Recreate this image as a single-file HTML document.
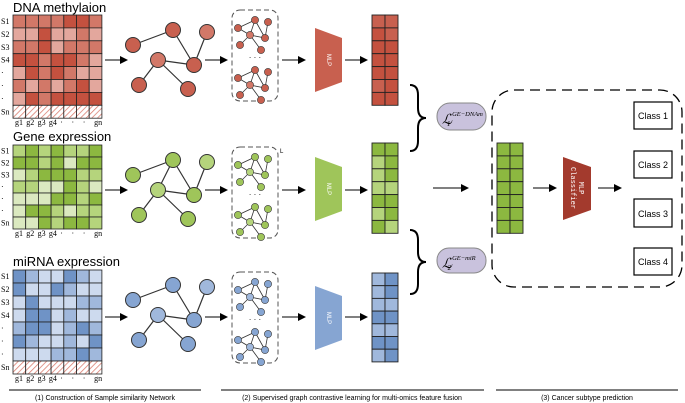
<!DOCTYPE html>
<html><head><meta charset="utf-8"><style>
html,body{margin:0;padding:0;background:#fff;}
svg{display:block;font-family:"Liberation Sans",sans-serif;}
</style></head><body>
<svg id="s" width="685" height="403" viewBox="0 0 685 403" xmlns="http://www.w3.org/2000/svg">
<defs>
<pattern id="h" width="4" height="4" patternUnits="userSpaceOnUse" patternTransform="rotate(45)">
<rect width="4" height="4" fill="#fff"/><line x1="0" y1="0" x2="0" y2="4" stroke="#d9786a" stroke-width="1.5"/></pattern>
<marker id="a" markerWidth="8" markerHeight="8" refX="7" refY="4" orient="auto" markerUnits="userSpaceOnUse"><path d="M0,0 L8,4 L0,8 z" fill="#000"/></marker>
</defs>
<g id="g"></g>
<text x="13" y="12" font-size="13">DNA methylaion</text>
<text x="13" y="141" font-size="13">Gene expression</text>
<text x="13" y="266" font-size="13">miRNA expression</text>
<!-- losses -->
<rect x="437" y="103" width="49" height="27" rx="13" fill="#c9c2dd" stroke="#888"/>
<text x="442" y="124" font-size="14" font-family="Liberation Serif,serif" font-style="italic">ℒ<tspan font-size="6.5" dy="-8">GE−DNAm</tspan><tspan font-size="7" dx="-36" dy="10">1</tspan></text>
<rect x="437" y="248" width="49" height="25" rx="12" fill="#c9c2dd" stroke="#888"/>
<text x="442" y="268" font-size="14" font-family="Liberation Serif,serif" font-style="italic">ℒ<tspan font-size="6.5" dy="-8">GE−miR</tspan><tspan font-size="7" dx="-28" dy="10">2</tspan></text>
<!-- braces -->
<path d="M410,85 q8,0 8,10 v13 q0,10 8,10 q-8,0 -8,10 v13 q0,10 -8,10" fill="none" stroke="#000" stroke-width="2"/>
<path d="M410,230 q8,0 8,10 v12 q0,10 8,10 q-8,0 -8,10 v12 q0,10 -8,10" fill="none" stroke="#000" stroke-width="2"/>
<rect x="492" y="90" width="190" height="197" rx="22" fill="none" stroke="#000" stroke-width="1.3" stroke-dasharray="10,6"/>
<line x1="433" y1="188" x2="468" y2="188" stroke="#000" marker-end="url(#a)"/>
<line x1="533" y1="188" x2="556" y2="188" stroke="#000" marker-end="url(#a)"/>
<line x1="598" y1="188" x2="621" y2="188" stroke="#000" marker-end="url(#a)"/>
<polygon points="563,157 591,167 591,210 563,220" fill="#a33a2d"/>
<text transform="translate(577,188) rotate(90)" font-size="7" fill="#fff" text-anchor="middle" font-family="Liberation Mono,monospace"><tspan x="0" dy="-2">MLP</tspan><tspan x="0" dy="8">Classifier</tspan></text>
<g fill="#fff" stroke="#000" stroke-width="1.2">
<rect x="634" y="102" width="38" height="27"/><rect x="634" y="151" width="38" height="27"/>
<rect x="634" y="199" width="38" height="28"/><rect x="634" y="248" width="38" height="27"/></g>
<g font-size="9" text-anchor="middle"><text x="653" y="119">Class 1</text><text x="653" y="168">Class 2</text><text x="653" y="217">Class 3</text><text x="653" y="265">Class 4</text></g>
<g stroke="#000" stroke-width="1"><line x1="9" y1="390" x2="201" y2="390"/><line x1="221" y1="390" x2="484" y2="390"/><line x1="496" y1="390" x2="678" y2="390"/></g>
<g font-size="7" text-anchor="middle"><text x="105" y="400">(1) Construction of Sample similarity Network</text><text x="352" y="400">(2) Supervised graph contrastive learning for multi-omics feature fusion</text><text x="587" y="400">(3)  Cancer subtype prediction</text></g>
<text x="280" y="153" font-size="6">L</text>
</svg>
<script>
var G=document.getElementById('g'),h='';
function R(){var x=Math.sin(R.s++*12.9898)*43758.5453;return x-Math.floor(x);}R.s=3;
var P=[["#c4513f","#d27868","#e3a79d","#c8604f","#a33a2d"],["#8cb840","#b5d47c","#dbe9c0","#9fc55a","#a8cc4a"],["#6f93c6","#a0b8dc","#cddaee","#86a5d2","#a8bfe2"]];
var tops=[15,145,270],hat=[1,0,1],rh=[12.9,12,13],nr=[8,7,8];
for(var k=0;k<3;k++){var c=P[k],y0=tops[k],r=rh[k],n=nr[k];
 for(var i=0;i<n;i++)for(var j=0;j<7;j++){var x=13+j*12.7,y=y0+i*r;
  var f=(i==7&&hat[k])?'url(#h)':c[Math.floor(R()*3)];
  h+='<rect x="'+x+'" y="'+y+'" width="12.7" height="'+r+'" fill="'+f+'" stroke="#222" stroke-width="0.8"/>';}
 var lab=n==8?['S1','S2','S3','S4','·','·','·','Sn']:['S1','S2','S3','·','·','·','Sn'];
 for(i=0;i<n;i++)h+='<text x="1" y="'+(y0+i*r+r*0.7)+'" font-size="8" font-family="Liberation Serif,serif">'+lab[i]+'</text>';
 var gy=y0+n*r+7,gl=['g1','g2','g3','g4','·','·','·','gn'];
 for(j=0;j<8;j++)h+='<text x="'+(15+j*11.3)+'" y="'+gy+'" font-size="8" font-family="Liberation Serif,serif">'+gl[j]+'</text>';
 var dy=[0,130,255][k],N=[[133,45],[173,30],[207,32],[158,60],[194,65],[139,85],[188,89]];
 var E=[[0,1],[1,4],[2,4],[3,4],[3,5],[3,6]];if(k==1)E.push([1,3]);
 E.forEach(function(e){h+='<line x1="'+N[e[0]][0]+'" y1="'+(N[e[0]][1]+dy)+'" x2="'+N[e[1]][0]+'" y2="'+(N[e[1]][1]+dy)+'" stroke="#333" stroke-width="1.2"/>';});
 N.forEach(function(nn,q){h+='<circle cx="'+nn[0]+'" cy="'+(nn[1]+dy)+'" r="7.5" fill="'+(q==3||q==2?c[1]:c[3])+'" stroke="#333" stroke-width="1"/>';});
 var ay=[60,190,317][k];
 h+='<line x1="105" y1="'+ay+'" x2="127" y2="'+ay+'" stroke="#000" marker-end="url(#a)"/>';
 h+='<line x1="205" y1="'+ay+'" x2="227" y2="'+ay+'" stroke="#000" marker-end="url(#a)"/>';
 h+='<line x1="282" y1="'+ay+'" x2="305" y2="'+ay+'" stroke="#000" marker-end="url(#a)"/>';
 h+='<line x1="345" y1="'+ay+'" x2="367" y2="'+ay+'" stroke="#000" marker-end="url(#a)"/>';
 var by=[10,147,272][k];
 h+='<rect x="232" y="'+by+'" width="46" height="91" rx="8" fill="none" stroke="#555" stroke-dasharray="5,3"/>';
 var S=[[238,28],[255,20],[268,22],[250,35],[265,38],[240,45],[261,50]],SE=[[0,1],[1,4],[2,4],[3,4],[0,3],[3,5],[3,6],[1,3]];
 var sd=by-10;
 [0,50].forEach(function(o){SE.forEach(function(e){h+='<line x1="'+S[e[0]][0]+'" y1="'+(S[e[0]][1]+sd+o)+'" x2="'+S[e[1]][0]+'" y2="'+(S[e[1]][1]+sd+o)+'" stroke="#333" stroke-width="0.8"/>';});
  S.forEach(function(nn,q){h+='<circle cx="'+nn[0]+'" cy="'+(nn[1]+sd+o)+'" r="3.6" fill="'+(q==3?c[1]:c[3])+'" stroke="#333" stroke-width="0.6"/>';});});
 h+='<text x="255" y="'+(sd+60)+'" font-size="8" text-anchor="middle">·  ·  ·</text>';
 var my=[28,157,286][k];
 h+='<polygon points="315,'+my+' 342,'+(my+10)+' 342,'+(my+54)+' 315,'+(my+64)+'" fill="'+c[3]+'"/>';
 h+='<text transform="translate(327,'+(my+32)+') rotate(90)" font-size="6" fill="#fff" text-anchor="middle">MLP</text>';
 var vy=[15,143,273][k],vh=[12.9,12.9,12.7][k];
 for(i=0;i<7;i++)for(j=0;j<2;j++)h+='<rect x="'+(372+j*13)+'" y="'+(vy+i*vh)+'" width="13" height="'+vh+'" fill="'+c[Math.floor(R()*2)==0?0:(k==0?3:1)]+'" stroke="#222" stroke-width="0.9"/>';
}
for(i=0;i<7;i++)for(j=0;j<2;j++)h+='<rect x="'+(497+j*13)+'" y="'+(143+i*12.9)+'" width="13" height="12.9" fill="#8cb840" stroke="#222" stroke-width="0.9"/>';
G.innerHTML=h;
</script>
</body></html>
